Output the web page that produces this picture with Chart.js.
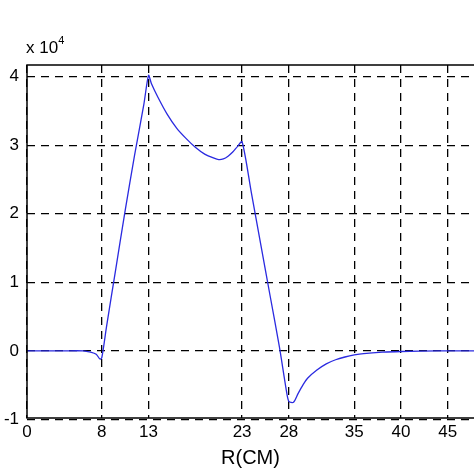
<!DOCTYPE html>
<html><head><meta charset="utf-8">
<script src="https://cdn.jsdelivr.net/npm/chart.js@4"></script>
<style>body{margin:0;background:#fff;overflow:hidden}#w{position:relative;width:474px;height:474px}
#ex{position:absolute;left:26px;top:36px;font:17px "Liberation Sans",Arial,sans-serif;color:#000}
#ex sup{font-size:11px;position:relative;top:-2px}</style></head>
<body><div id="w"><canvas id="c" width="474" height="474"></canvas><div id="ex">x 10<sup>4</sup></div></div>
<script>
const xVals=[0,2,4,6,6.8,7.4,7.8,8,8.5,9.5,10.5,11.5,12.5,13,13.3,14,15,16,17,18,19,20,20.5,21,21.5,22,22.5,23,24,25,26,27,27.7,28,28.5,29,29.5,30,31,32,33,34,35,36,38,40,44,48];
const yVals=[0,0,0,0,-0.02,-0.05,-0.12,-0.1,0.35,1.2,2.05,2.85,3.6,4.02,3.9,3.7,3.45,3.25,3.1,2.97,2.87,2.81,2.79,2.8,2.84,2.9,2.98,3.05,2.3,1.55,0.8,0.05,-0.55,-0.74,-0.75,-0.62,-0.5,-0.4,-0.28,-0.19,-0.13,-0.09,-0.06,-0.04,-0.02,-0.01,0,0];
const xTicks=[0,8,13,23,28,35,40,45];
const yTicks=[-1,0,1,2,3,4];
const pts=xVals.map((x,i)=>({x,y:yVals[i]}));
const font={family:'"Liberation Sans",Arial,sans-serif',size:17};
const box={id:'box',afterDraw(c){const a=c.chartArea,g=c.ctx;g.save();g.strokeStyle='#000';g.lineWidth=1.5;g.beginPath();g.moveTo(a.right+5,a.top);g.lineTo(a.left,a.top);g.lineTo(a.left,a.bottom);g.lineTo(a.right+5,a.bottom);g.stroke();g.restore();}};
new Chart(document.getElementById('c'),{type:'line',
data:{datasets:[{data:pts,borderColor:'#2a2ae0',borderWidth:1.3,pointRadius:0,tension:0.25,fill:false}]},
options:{responsive:false,animation:false,layout:{padding:{top:65,right:0,left:0,bottom:0}},
plugins:{legend:{display:false},tooltip:{enabled:false}},
scales:{
x:{type:'linear',min:0,max:47.8,afterBuildTicks(s){s.ticks=xTicks.map(v=>({value:v}));},
 afterFit(s){s.height=56;},
 grid:{color:'#000',lineWidth:1.3,drawTicks:false},border:{display:false,dash:[8,6]},
 ticks:{color:'#000',font,padding:4,maxRotation:0,autoSkip:false},
 title:{display:true,text:'R(CM)',color:'#000',font:{...font,size:20},padding:{top:0}}},
y:{min:-0.98,max:4.17,afterBuildTicks(s){s.ticks=yTicks.map(v=>({value:v}));},
 afterFit(s){s.width=27;},
 grid:{color:'#000',lineWidth:1.3,drawTicks:false},border:{display:false,dash:[8,6]},
 ticks:{color:'#000',font,padding:8}}
}},plugins:[box]});
</script></body></html>
